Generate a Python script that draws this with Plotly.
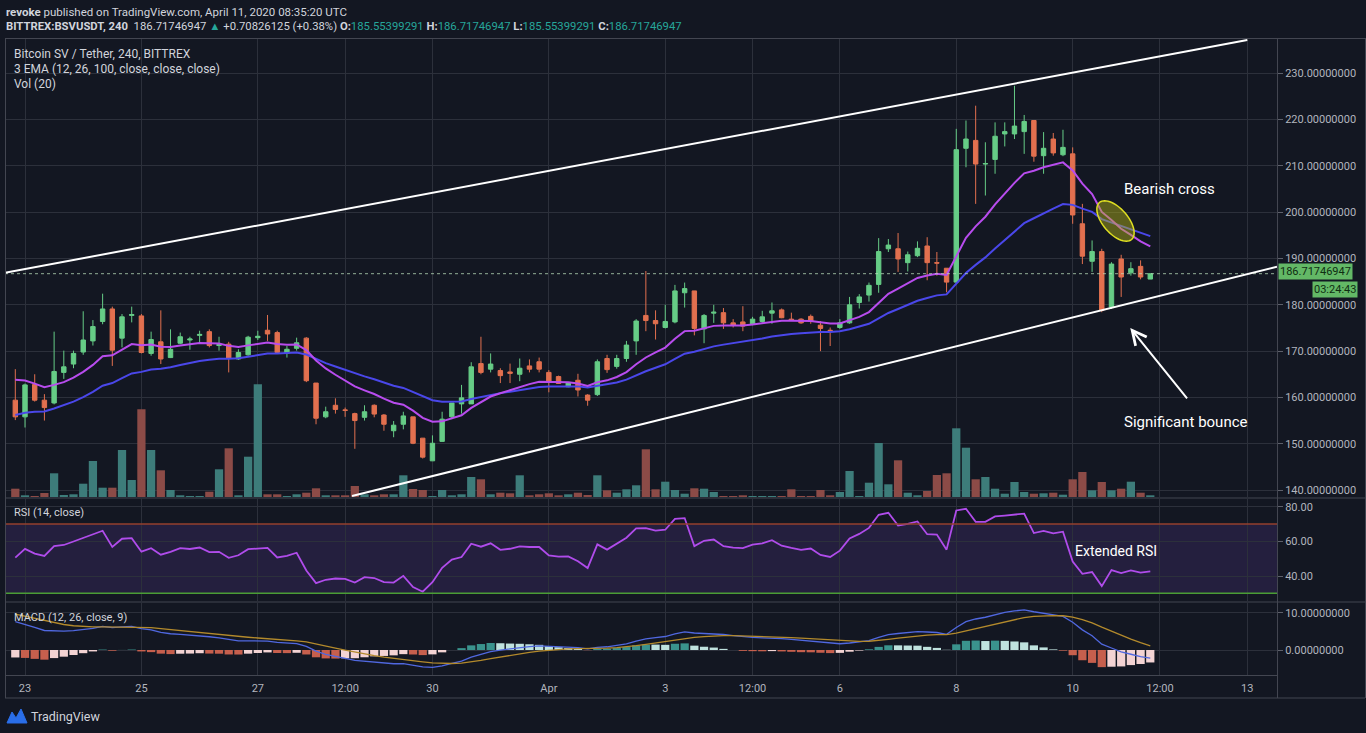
import math
import pandas as pd
import plotly.graph_objects as go

# ---------------- data ----------------
first_candle = "2020-03-22 20:00"   # 4h candles, BITTREX:BSVUSDT

open_ = [159.4,155.8,162.8,159.4,158.8,165.4,167.2,169.8,172.2,176.4,
         179.1,172.8,177.7,177.6,169.5,172.0,168.6,171.7,172.4,173.4,
         174.2,171.2,171.5,168.3,169.2,172.9,174.5,174.0,169.5,170.6,
         172.8,163.1,155.8,158.3,157.3,156.5,155.7,158.3,156.2,152.8,
         154.2,155.8,151.2,146.3,150.5,155.8,158.6,158.6,167.3,166.1,
         165.8,165.5,165.0,166.8,167.7,165.4,164.5,162.3,163.7,160.5,
         160.6,168.4,166.7,168.4,172.2,177.7,176.6,175.1,176.3,182.6,
         183.0,174.8,178.2,178.3,176.1,176.3,175.9,176.4,178.2,178.9,
         176.9,176.9,177.5,175.6,174.5,175.1,176.1,180.5,182.1,184.4,
         192.1,192.1,189.1,190.6,192.7,189.1,187.9,184.9,213.8,215.5,
         210.4,211.4,216.9,216.9,217.4,219.8,212.2,215.8,212.4,212.6,
         197.5,189.4,191.5,179.5,189.9,186.9,188.3,185.55399291]
high = [166.1,163.0,165.0,160.7,174.2,170.1,170.1,178.6,176.7,182.4,
        179.6,178.0,179.6,178.0,174.2,178.8,174.7,174.0,173.1,174.4,
        174.7,173.1,172.0,170.4,173.3,174.4,177.8,174.4,171.1,172.9,
        173.0,163.1,158.0,159.8,157.8,156.7,158.3,158.5,156.4,154.9,
        156.9,155.8,151.2,151.8,156.9,158.8,162.7,167.6,173.1,169.5,
        166.3,167.3,168.4,168.2,168.6,165.9,164.7,163.2,165.1,160.7,
        168.2,169.2,169.2,172.2,176.9,187.3,178.8,180.0,184.3,184.8,
        183.0,178.0,180.0,179.3,176.9,179.7,177.4,178.7,180.5,179.2,
        178.3,177.1,177.9,176.5,175.1,176.9,181.7,182.3,184.8,194.4,
        194.2,195.5,191.5,193.7,194.6,191.4,187.9,218.0,219.8,223.0,
        215.1,219.4,219.4,227.3,221.0,219.8,217.3,217.1,217.8,214.0,
        201.8,193.9,192.1,189.2,190.8,189.2,189.6,186.71746947]
low = [155.1,153.5,159.1,155.0,158.5,164.0,166.3,169.2,171.2,175.8,
       166.8,170.8,176.2,169.5,169.0,167.2,168.5,171.5,170.3,171.9,
       170.8,170.1,165.4,168.1,169.0,172.4,172.2,169.4,168.6,170.1,
       163.3,154.2,155.5,156.5,155.8,148.9,155.0,155.7,152.8,151.4,
       153.1,149.9,146.8,146.3,150.5,155.3,156.5,158.6,165.0,165.4,
       163.1,163.1,163.5,165.4,165.4,161.1,162.9,162.2,160.2,158.2,
       160.3,165.3,166.2,167.7,169.2,174.3,172.5,174.9,176.0,179.4,
       173.4,171.7,176.1,174.8,175.1,174.3,175.6,175.9,175.9,177.1,
       176.5,175.9,175.9,170.0,171.1,174.8,175.9,179.2,180.7,182.6,
       191.4,187.1,187.2,190.3,185.3,186.3,182.7,184.5,209.7,201.8,
       203.6,208.3,214.2,215.8,212.6,210.9,208.3,212.2,212.1,197.5,
       188.8,187.1,178.4,179.1,181.7,186.3,185.5,185.55399291]
close = [155.8,162.7,159.4,157.8,165.6,166.6,169.5,172.4,175.3,179.1,
         170.2,177.4,177.9,169.7,172.5,168.3,170.4,173.1,172.6,173.6,
         171.2,171.4,168.4,169.7,173.0,173.2,173.7,169.7,170.4,171.8,
         163.6,155.5,156.9,157.4,157.2,155.0,156.9,156.4,154.2,154.0,
         156.0,150.1,147.1,150.1,155.3,158.8,159.9,166.6,165.4,167.2,
         164.7,165.2,166.3,166.1,166.1,163.4,163.0,163.1,161.6,159.4,
         167.7,166.0,168.4,171.3,176.5,176.6,175.9,176.4,183.0,183.5,
         174.9,177.7,178.4,176.1,175.6,175.4,176.9,177.4,178.7,177.2,
         176.6,176.1,176.5,174.9,174.4,176.1,180.0,181.7,184.2,191.5,
         192.9,189.9,190.8,192.2,189.1,189.0,184.9,213.5,215.8,210.4,
         210.5,216.4,217.4,218.6,219.6,212.1,213.8,212.8,214.0,199.4,
         190.5,191.5,178.8,188.8,186.0,187.8,186.0,186.71746947]
volume = [8.3,1.7,1.0,4.0,23.7,2.0,2.7,13.3,36.0,9.3,
          9.3,47.0,17.0,87.7,47.0,26.7,7.0,1.7,1.0,1.0,
          5.3,27.7,48.7,1.7,40.3,112.7,2.7,2.7,1.0,2.7,
          4.3,8.7,1.7,1.7,1.7,11.0,2.7,1.7,2.7,2.7,
          21.7,8.0,7.0,1.0,7.0,1.7,2.7,20.0,17.7,2.7,
          4.3,3.7,21.7,1.7,2.7,3.7,1.7,2.7,4.3,2.0,
          21.7,6.7,4.3,7.7,11.7,47.7,7.7,15.3,7.0,3.3,
          8.7,8.3,5.0,1.0,1.0,1.7,1.0,1.0,1.0,1.0,
          7.7,1.0,1.0,7.0,1.7,5.0,26.0,1.0,14.3,54.0,
          12.7,36.7,4.3,1.7,6.0,22.0,23.7,68.7,49.3,17.7,
          20.0,8.3,3.3,15.0,5.0,3.3,3.7,4.3,2.3,17.7,
          25.0,6.7,15.0,6.7,8.3,15.3,4.3,1.7]

# indicator state at the first visible candle
ema12_start = 163.8
ema26_start = 156.2
signal_start = 9.6
rsi_gain_start = 2.38
rsi_loss_start = 2.32

last_price = 186.71746947

# hand-drawn trend channel (date, price)
upper_line_dates = ["2020-03-22 15:45", "2020-04-13 00:00"]
upper_line_prices = [186.9, 237.2]
lower_line_dates = ["2020-03-28 14:50", "2020-04-13 12:15"]
lower_line_prices = [138.7, 188.2]
arrow_tip_date = "2020-04-10 23:45"
arrow_tip_price = 175.0

x_tick_dates = ["2020-03-23", "2020-03-25", "2020-03-27", "2020-03-28 12:00", "2020-03-30",
                "2020-04-01", "2020-04-03", "2020-04-04 12:00", "2020-04-06", "2020-04-08",
                "2020-04-10", "2020-04-11 12:00", "2020-04-13"]
x_tick_labels = ["23", "25", "27", "12:00", "30", "Apr", "3", "12:00", "6", "8", "10", "12:00", "13"]
price_ticks = [140, 150, 160, 170, 180, 190, 200, 210, 220, 230]
rsi_ticks = [40, 60, 80]
macd_ticks = [0, 10]

# ---------------- derived series ----------------
times = pd.date_range(first_candle, periods=len(close), freq="4h")

def ema(values, start, n):
    a = 2.0 / (n + 1)
    out = [start]
    for v in values[1:]:
        out.append(out[-1] + a * (v - out[-1]))
    return out

ema12 = ema(close, ema12_start, 12)
ema26 = ema(close, ema26_start, 26)
macd = [a - b for a, b in zip(ema12, ema26)]
signal = ema(macd, signal_start, 9)
hist = [m - s for m, s in zip(macd, signal)]

g, l = rsi_gain_start, rsi_loss_start
rsi = [100 * g / (g + l)]
for i in range(1, len(close)):
    ch = close[i] - close[i - 1]
    g = (13 * g + max(ch, 0)) / 14
    l = (13 * l + max(-ch, 0)) / 14
    rsi.append(100 * g / (g + l))

# ---------------- style ----------------
BG = "#131722"
GRID = "#2c303b"
BORDER = "#434651"
TXT = "#d1d4dc"
AXT = "#b2b5be"
UP = "#66cc86"
DN = "#e2704f"
TEAL = "#26a69a"
FONT = "Roboto"

vol_colors = ["#3d7c7a" if c >= o else "#8c4b47" for o, c in zip(open_, close)]
hist_colors = []
for i, h in enumerate(hist):
    prev = hist[i - 1] if i else h
    if h >= 0:
        hist_colors.append("#3a938d" if h > prev else "#bfe2de")
    else:
        hist_colors.append("#c65f4d" if h < prev else "#f3d3d3")

# plot-area pixel frame
PL, PR, PT, PB = 5, 1277, 38, 675
def px(x):
    return (x - PL) / (PR - PL)
def py(y):
    return (PB - y) / (PB - PT)

MAIN = [py(497), 1.0]
RSI_D = [py(601), py(499)]
MACD_D = [0.0, py(603)]

fig = go.Figure()
fig.add_trace(go.Bar(x=times, y=volume, marker=dict(color=vol_colors, line=dict(width=0)),
                     xaxis="x", yaxis="y", hoverinfo="skip"))
fig.add_trace(go.Candlestick(x=times, open=open_, high=high, low=low, close=close,
                             xaxis="x", yaxis="y2", whiskerwidth=0,
                             increasing=dict(line=dict(color=UP, width=1), fillcolor=UP),
                             decreasing=dict(line=dict(color=DN, width=1), fillcolor=DN),
                             hoverinfo="skip"))
fig.add_trace(go.Scatter(x=times, y=ema26, mode="lines", line=dict(color="#4a47ea", width=2),
                         xaxis="x", yaxis="y2", hoverinfo="skip"))
fig.add_trace(go.Scatter(x=times, y=ema12, mode="lines", line=dict(color="#b84cee", width=2),
                         xaxis="x", yaxis="y2", hoverinfo="skip"))
fig.add_trace(go.Scatter(x=times, y=rsi, mode="lines", line=dict(color="#b04ceb", width=1.8),
                         xaxis="x2", yaxis="y3", hoverinfo="skip"))
fig.add_trace(go.Bar(x=times, y=hist, marker=dict(color=hist_colors, line=dict(width=0)),
                     xaxis="x3", yaxis="y4", hoverinfo="skip"))
fig.add_trace(go.Scatter(x=times, y=macd, mode="lines", line=dict(color="#5068e0", width=1.3),
                         xaxis="x3", yaxis="y4", hoverinfo="skip"))
fig.add_trace(go.Scatter(x=times, y=signal, mode="lines", line=dict(color="#b38a2c", width=1.3),
                         xaxis="x3", yaxis="y4", hoverinfo="skip"))

x_range = ["2020-03-22 15:45", "2020-04-13 12:15"]
xcommon = dict(type="date", range=x_range, tickvals=x_tick_dates, ticktext=x_tick_labels,
               showgrid=True, gridcolor=GRID, gridwidth=1, zeroline=False, showline=False,
               domain=[0, 1])
ycommon = dict(side="right", showgrid=True, gridcolor=GRID, zeroline=False,
               ticks="outside", ticklen=5, tickcolor="#5d606b",
               tickfont=dict(family=FONT, size=11, color=AXT), showline=False)

fig.update_layout(
    width=1366, height=733,
    margin=dict(l=PL, r=1366 - PR, t=PT, b=733 - PB),
    paper_bgcolor=BG, plot_bgcolor=BG, showlegend=False,
    bargap=0.15, boxgap=0.35, hovermode=False,
    font=dict(family=FONT, color=TXT, size=11),
    xaxis=dict(xcommon, anchor="y", showticklabels=False, rangeslider=dict(visible=False)),
    xaxis2=dict(xcommon, anchor="y3", matches="x", showticklabels=False),
    xaxis3=dict(xcommon, anchor="y4", matches="x", showticklabels=True, ticks="outside",
                ticklen=3, tickcolor=BG, tickfont=dict(family=FONT, size=11, color=AXT)),
    yaxis=dict(domain=MAIN, anchor="x", range=[0, 459], visible=False, fixedrange=True),
    yaxis2=dict(ycommon, overlaying="y", anchor="x", range=[138.49, 237.62],
                tickvals=price_ticks, ticktext=[f"{v:.8f}" for v in price_ticks]),
    yaxis3=dict(ycommon, domain=RSI_D, anchor="x2", range=[25.57, 84.44],
                tickvals=rsi_ticks, ticktext=[f"{v:.2f}" for v in rsi_ticks]),
    yaxis4=dict(ycommon, domain=MACD_D, anchor="x3", range=[-6.70, 12.6],
                tickvals=macd_ticks, ticktext=[f"{v:.8f}" for v in macd_ticks]),
)

shapes = []
# RSI band and levels
shapes.append(dict(type="rect", xref="x2 domain", yref="y3", x0=0, x1=1, y0=30, y1=70,
                   fillcolor="rgba(126,70,200,0.17)", line=dict(width=0), layer="below"))
shapes.append(dict(type="line", xref="x2 domain", yref="y3", x0=0, x1=1, y0=70, y1=70,
                   line=dict(color="#94402e", width=1.5)))
shapes.append(dict(type="line", xref="x2 domain", yref="y3", x0=0, x1=1, y0=30, y1=30,
                   line=dict(color="#4a9d35", width=1.5)))
# last price dotted line
shapes.append(dict(type="line", xref="x domain", yref="y2", x0=0, x1=1, y0=last_price, y1=last_price,
                   line=dict(color="rgba(190,225,190,0.75)", width=1, dash="dot")))
# trend channel
shapes.append(dict(type="line", xref="x", yref="y2", x0=upper_line_dates[0], x1=upper_line_dates[1],
                   y0=upper_line_prices[0], y1=upper_line_prices[1], line=dict(color="white", width=2)))
shapes.append(dict(type="line", xref="x", yref="y2", x0=lower_line_dates[0], x1=lower_line_dates[1],
                   y0=lower_line_prices[0], y1=lower_line_prices[1], line=dict(color="white", width=2)))

# ellipse marking the bearish cross
def ellipse_path(cx, cy, a, b, ang_deg, n=60):
    th = math.radians(ang_deg)
    pts = []
    for k in range(n):
        t = 2 * math.pi * k / n
        dx = a * math.cos(t) * math.cos(th) - b * math.sin(t) * math.sin(th)
        dy = a * math.cos(t) * math.sin(th) + b * math.sin(t) * math.cos(th)
        pts.append((px(cx + dx), py(cy + dy)))
    return "M " + " L ".join(f"{x:.5f},{y:.5f}" for x, y in pts) + " Z"

shapes.append(dict(type="path", xref="paper", yref="paper", path=ellipse_path(1115.5, 221, 24.5, 12.5, 49),
                   fillcolor="rgba(185,185,25,0.45)", line=dict(color="#dede22", width=1.5), layer="above"))

# frame and pane separators
def hline(y, x0=PL, x1=1365, color=BORDER, w=1):
    return dict(type="line", xref="paper", yref="paper", x0=px(x0), x1=px(x1), y0=py(y), y1=py(y),
                line=dict(color=color, width=w))
def vline(x, y0=PT, y1=698, color=BORDER, w=1):
    return dict(type="line", xref="paper", yref="paper", x0=px(x), x1=px(x), y0=py(y0), y1=py(y1),
                line=dict(color=color, width=w))
shapes += [hline(38.5), hline(698), hline(675.5, x1=PR), hline(498), hline(602),
           vline(5.5), vline(1365.5), vline(1277.5)]

# TradingView logo mark
logo = [(7, 723), (12, 712), (16, 718), (21, 709), (27, 723)]
shapes.append(dict(type="path", xref="paper", yref="paper",
                   path="M " + " L ".join(f"{px(x):.5f},{py(y):.5f}" for x, y in logo) + " Z",
                   fillcolor="#2a6ee8", line=dict(color="#2a6ee8", width=1)))
fig.update_layout(shapes=shapes)

anns = []
def txt(t, x, y, size=11, color=TXT, xanchor="left", **kw):
    anns.append(dict(text=t, xref="paper", yref="paper", x=px(x), y=py(y), xanchor=xanchor,
                     yanchor="middle", showarrow=False, font=dict(family=FONT, size=size, color=color), **kw))

tl = lambda s: f"<span style='color:{TEAL}'>{s}</span>"
txt("<b>revoke</b> published on TradingView.com, April 11, 2020 08:35:20 UTC", 4, 12, size=11.5)
txt("<b>BITTREX:BSVUSDT, 240</b>  186.71746947 " + tl("▲") + " +0.70826125 (+0.38%) "
    "<b>O:</b>" + tl("185.55399291") + " <b>H:</b>" + tl("186.71746947") +
    " <b>L:</b>" + tl("185.55399291") + " <b>C:</b>" + tl("186.71746947"), 4, 26, size=11.3)
txt("Bitcoin SV / Tether, 240, BITTREX", 12, 54, size=12)
txt("3 EMA (12, 26, 100, close, close, close)", 12, 69, size=12)
txt("Vol (20)", 12, 84, size=12)
txt("RSI (14, close)", 12, 512, size=11)
txt("MACD (12, 26, close, 9)", 12, 617, size=11)
txt("Bearish cross", 1122, 189, size=15, color="#ffffff")
txt("Significant bounce", 1122, 422, size=15, color="#ffffff")
txt("Extended RSI", 1073, 551, size=14, color="#ffffff")
txt("TradingView", 29, 716, size=12.5)
txt("186.71746947", 1278, 271, size=11, color="#0f2e12", bgcolor="#63b866", borderpad=1)
txt("03:24:43", 1358, 289.5, size=11, color="#0f2e12", xanchor="right", bgcolor="#63b866", borderpad=1)

anns.append(dict(x=arrow_tip_date, y=arrow_tip_price, xref="x", yref="y2", text="",
                 showarrow=True, ax=58, ay=72, axref="pixel", ayref="pixel",
                 arrowhead=5, arrowsize=1.4, arrowwidth=2, arrowcolor="white", standoff=0))
fig.update_layout(annotations=anns)

fig.write_html("out.html", config={"displayModeBar": False, "staticPlot": True},
               post_script="document.body.style.margin='0px';document.body.style.background='#131722';")
